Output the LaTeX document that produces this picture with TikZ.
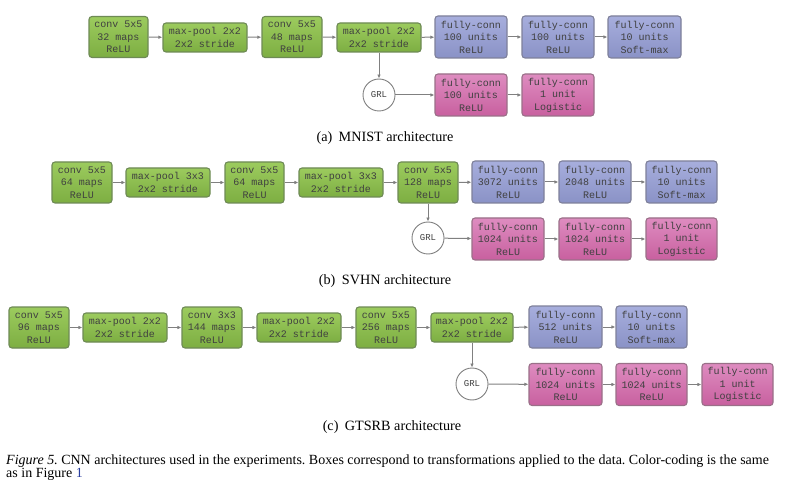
\documentclass[tikz,border=0pt]{standalone}
\usepackage{fontspec}
\setmainfont{Liberation Serif}
\newfontfamily\boxfont{Liberation Mono}
\usetikzlibrary{arrows.meta}
\frenchspacing
\definecolor{gtop}{HTML}{9CCB5E}
\definecolor{gbot}{HTML}{7DAE42}
\definecolor{gborder}{HTML}{6E8A55}
\definecolor{btop}{HTML}{A7AEDD}
\definecolor{bbot}{HTML}{8A92C6}
\definecolor{bborder}{HTML}{7E809A}
\definecolor{ptop}{HTML}{DE8CC0}
\definecolor{pbot}{HTML}{C8609F}
\definecolor{pborder}{HTML}{9A7088}
\definecolor{txtgray}{HTML}{404040}
\definecolor{arrgray}{HTML}{808080}
\definecolor{linkblue}{HTML}{2A3FA0}
\tikzset{
  base/.style={rounded corners=3pt, line width=1.1pt, font=\boxfont\fontsize{10}{12.5}\selectfont,
    text=txtgray, align=center, inner sep=0pt, anchor=center},
  gbox/.style={base, draw=gborder, top color=gtop, bottom color=gbot},
  bbox/.style={base, draw=bborder, top color=btop, bottom color=bbot},
  pbox/.style={base, draw=pborder, top color=ptop, bottom color=pbot},
  convbox/.style={minimum width=60pt, minimum height=41pt},
  poolbox/.style={minimum width=84pt, minimum height=29pt},
  fcbox/.style={minimum width=72pt, minimum height=42pt},
  grlnode/.style={circle, draw=arrgray, line width=0.9pt, fill=white, minimum size=32pt,
    font=\boxfont\fontsize{9}{10}\selectfont, text=txtgray, inner sep=0pt},
  arr/.style={-{Latex[length=4pt,width=3.5pt]}, draw=arrgray, line width=1pt},
  subcap/.style={font=\fontsize{14.2}{16}\selectfont, inner sep=0pt},
  captext/.style={font=\fontsize{14}{16}\selectfont, inner sep=0pt}
}
\begin{document}
\begin{tikzpicture}[x=1pt,y=-1pt]
\useasboundingbox (0,0) rectangle (809,481);
\clip (0,0) rectangle (809,481);
\fill[white] (0,0) rectangle (809,481);
% ---------- MNIST ----------
\node[gbox,convbox,minimum width=59pt] (ma1) at (118.5,37) {conv 5x5\\32 maps\\ReLU};
\node[gbox,poolbox] (ma2) at (205,37.5) {max-pool 2x2\\2x2 stride};
\node[gbox,convbox] (ma3) at (292,37) {conv 5x5\\48 maps\\ReLU};
\node[gbox,poolbox] (ma4) at (379,37.5) {max-pool 2x2\\2x2 stride};
\node[bbox,fcbox] (ma5) at (471,37) {fully-conn\\100 units\\ReLU};
\node[bbox,fcbox] (ma6) at (558,37) {fully-conn\\100 units\\ReLU};
\node[bbox,fcbox,minimum width=73pt] (ma7) at (644.5,37) {fully-conn\\10 units\\Soft-max};
\node[grlnode] (mg) at (379,95) {GRL};
\node[pbox,fcbox] (md1) at (471,95) {fully-conn\\100 units\\ReLU};
\node[pbox,fcbox] (md2) at (558,95) {fully-conn\\1 unit\\Logistic};
\draw[arr] (ma1) -- (ma2);
\draw[arr] (ma2) -- (ma3);
\draw[arr] (ma3) -- (ma4);
\draw[arr] (ma4) -- (ma5);
\draw[arr] (ma5) -- (ma6);
\draw[arr] (ma6) -- (ma7);
\draw[arr] (ma4) -- (mg);
\draw[arr] (mg) -- (md1);
\draw[arr] (md1) -- (md2);
\node[subcap] (capa) at (385,138) {(a)\hspace{0.45em}MNIST architecture};
% ---------- SVHN ----------
\node[gbox,convbox] (sa1) at (82,182.5) {conv 5x5\\64 maps\\ReLU};
\node[gbox,poolbox] (sa2) at (168,182.5) {max-pool 3x3\\2x2 stride};
\node[gbox,convbox,minimum width=59pt] (sa3) at (254.5,182.5) {conv 5x5\\64 maps\\ReLU};
\node[gbox,poolbox] (sa4) at (341,182.5) {max-pool 3x3\\2x2 stride};
\node[gbox,convbox] (sa5) at (428,182.5) {conv 5x5\\128 maps\\ReLU};
\node[bbox,fcbox] (sa6) at (508,182) {fully-conn\\3072 units\\ReLU};
\node[bbox,fcbox] (sa7) at (595,182) {fully-conn\\2048 units\\ReLU};
\node[bbox,fcbox,minimum width=71pt] (sa8) at (681.5,182) {fully-conn\\10 units\\Soft-max};
\node[grlnode] (sg) at (428,238) {GRL};
\node[pbox,fcbox] (sd1) at (508,239) {fully-conn\\1024 units\\ReLU};
\node[pbox,fcbox] (sd2) at (595,239) {fully-conn\\1024 units\\ReLU};
\node[pbox,fcbox,minimum width=71pt] (sd3) at (681.5,239) {fully-conn\\1 unit\\Logistic};
\draw[arr] (sa1) -- (sa2);
\draw[arr] (sa2) -- (sa3);
\draw[arr] (sa3) -- (sa4);
\draw[arr] (sa4) -- (sa5);
\draw[arr] (sa5) -- (sa6);
\draw[arr] (sa6) -- (sa7);
\draw[arr] (sa7) -- (sa8);
\draw[arr] (sa5) -- (sg);
\draw[arr] (sg) -- (sd1);
\draw[arr] (sd1) -- (sd2);
\draw[arr] (sd2) -- (sd3);
\node[subcap] (capb) at (385,281) {(b)\hspace{0.45em}SVHN architecture};
% ---------- GTSRB ----------
\node[gbox,convbox] (ga1) at (39,327.5) {conv 5x5\\96 maps\\ReLU};
\node[gbox,poolbox] (ga2) at (125,327.5) {max-pool 2x2\\2x2 stride};
\node[gbox,convbox] (ga3) at (212,327.5) {conv 3x3\\144 maps\\ReLU};
\node[gbox,poolbox] (ga4) at (299,327.5) {max-pool 2x2\\2x2 stride};
\node[gbox,convbox] (ga5) at (386,327.5) {conv 5x5\\256 maps\\ReLU};
\node[gbox,poolbox,minimum width=82pt] (ga6) at (472,327.5) {max-pool 2x2\\2x2 stride};
\node[bbox,fcbox,minimum width=73pt] (ga7) at (565.5,327) {fully-conn\\512 units\\ReLU};
\node[bbox,fcbox,minimum width=71pt] (ga8) at (651.5,327) {fully-conn\\10 units\\Soft-max};
\node[grlnode] (gg) at (472,384) {GRL};
\node[pbox,fcbox,minimum width=73pt] (gd1) at (565.5,384.5) {fully-conn\\1024 units\\ReLU};
\node[pbox,fcbox,minimum width=71pt] (gd2) at (651.5,384.5) {fully-conn\\1024 units\\ReLU};
\node[pbox,fcbox,minimum width=71pt] (gd3) at (737.5,384.5) {fully-conn\\1 unit\\Logistic};
\draw[arr] (ga1) -- (ga2);
\draw[arr] (ga2) -- (ga3);
\draw[arr] (ga3) -- (ga4);
\draw[arr] (ga4) -- (ga5);
\draw[arr] (ga5) -- (ga6);
\draw[arr] (ga6) -- (ga7);
\draw[arr] (ga7) -- (ga8);
\draw[arr] (ga6) -- (gg);
\draw[arr] (gg) -- (gd1);
\draw[arr] (gd1) -- (gd2);
\draw[arr] (gd2) -- (gd3);
\node[subcap] (capc) at (392,427) {(c)\hspace{0.45em}GTSRB architecture};
% ---------- figure caption ----------
\node[captext, anchor=base west] (fc1) at (6,464) {\textit{Figure 5.} CNN architectures used in the experiments. Boxes correspond to transformations applied to the data. Color-coding is the same};
\node[captext, anchor=base west] (fc2) at (6,477.5) {as in Figure \textcolor{linkblue}{1}};
\end{tikzpicture}
\end{document}
